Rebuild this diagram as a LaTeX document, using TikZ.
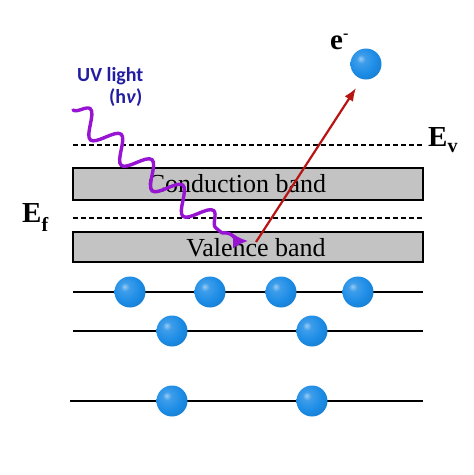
\documentclass[tikz,border=0pt]{standalone}
\usepackage{fontspec}
\setmainfont{Liberation Serif}
\newfontfamily\uvfont{Carlito}
\usetikzlibrary{arrows.meta,decorations.pathmorphing}
\definecolor{bandgray}{RGB}{195,195,195}
\definecolor{uvblue}{RGB}{35,30,160}
\definecolor{wavepurple}{RGB}{150,20,210}
\definecolor{arrowred}{RGB}{185,20,20}
\definecolor{ballblue}{RGB}{28,140,230}
\pgfdeclareradialshading{myball}{\pgfpoint{-9bp}{9bp}}{%
  color(0bp)=(white!55!ballblue);
  color(7bp)=(ballblue!85!white);
  color(22bp)=(ballblue);
  color(38bp)=(ballblue!85!black);
  color(50bp)=(ballblue!50!black);
  color(70bp)=(ballblue!40!black)}
\tikzset{
  bandbox/.style={draw=black, line width=1.6pt, fill=bandgray},
  levelline/.style={black, line width=1.6pt, dash pattern=on 5pt off 3pt},
  atomline/.style={black, line width=1.8pt},
  ballnode/.style={circle, minimum size=31pt, inner sep=0pt, shading=myball},
  bandtext/.style={font=\fontsize{26}{26}\selectfont, anchor=base, inner sep=0pt},
  elabel/.style={font=\fontsize{29}{29}\selectfont\bfseries, anchor=base west, inner sep=0pt},
  uvtext/.style={font=\uvfont\bfseries\fontsize{20}{20}\selectfont, text=uvblue, anchor=base west, inner sep=0pt},
}
\begin{document}
\begin{tikzpicture}[x=1pt,y=-1pt]
\useasboundingbox (0,0) rectangle (474,475);
% levels
\draw[levelline] (73,145) -- (423,145);
\draw[levelline] (73,218) -- (423,218);
% bands
\draw[bandbox] (73,168) rectangle (423,200);
\draw[bandbox] (73,232) rectangle (423,262);
\node[bandtext] (cb) at (237,192) {Conduction band};
\node[bandtext] (vb) at (256,256) {Valence band};
% labels
\node[elabel] (ev) at (428,146) {E\raisebox{-6pt}{\fontsize{20}{20}\selectfont v}};
\node[elabel] (ef) at (22,222) {E\raisebox{-9pt}{\fontsize{20}{20}\selectfont f}};
\node[elabel] (em) at (330,49) {e\raisebox{11pt}{\fontsize{16}{16}\selectfont -}};
% atom lines
\draw[atomline] (73,292) -- (423,292);
\draw[atomline] (73,331) -- (423,331);
\draw[atomline] (70,401) -- (423,401);
\foreach \x/\y [count=\i] in {130/292,210/292,281/292,358/292,172/331,312/331,172/401,312/401}
  \node[ballnode] (b\i) at (\x,\y) {};
% free electron
\node[ballnode] (free) at (366,64) {};
% UV text
\node[uvtext] (uv) at (77,81) {UV light};
\node[uvtext] (hv) at (109,103) {(h\textit{ν})};
% wave
\coordinate (w0) at (73,110);
\coordinate (w1) at (222,233);
\coordinate (w2) at (248,241);
\draw[wavepurple, line width=3.4pt, line cap=round, decorate, decoration={snake, segment length=40pt, amplitude=12pt}] (w0) -- (w1);
\draw[wavepurple, line width=3.4pt, -{Latex[length=15pt,width=15pt]}] (w1) to[out=10,in=180] (w2);
% red arrow
\coordinate (r0) at (256,242);
\coordinate (r1) at (356,88);
\draw[arrowred, line width=2.2pt, -{Latex[length=13pt,width=10pt]}] (r0) -- (r1);
\end{tikzpicture}
\end{document}
